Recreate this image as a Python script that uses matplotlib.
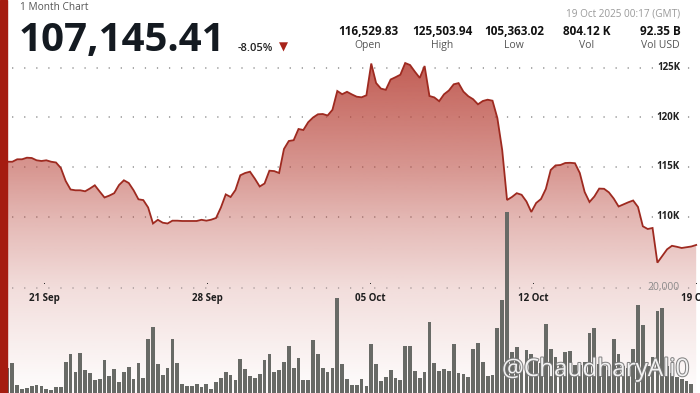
import matplotlib
matplotlib.use("Agg")
import matplotlib.pyplot as plt
import matplotlib.dates as mdates
import matplotlib.patheffects as pe
from matplotlib.patches import Rectangle
from matplotlib.transforms import blended_transform_factory
import numpy as np
import pandas as pd

plt.rcParams['font.family'] = ['Open Sans', 'DejaVu Sans']

# BTC/USD close, one point every 5 hours, ending 19 Oct 2025 00:17 GMT
price = [
    115520, 115520, 115765, 115765, 115926, 115895, 115664, 115594, 115664, 115520,
    115443, 114889, 113581, 112726, 112646, 112646, 112545, 112827, 113149, 112525,
    111922, 112113, 112354, 113179, 113652, 113380, 112646, 111740, 111660, 110915,
    109306, 109678, 109386, 109306, 109588, 109588, 109557, 109557, 109557, 109557,
    109678, 109588, 109688, 109859, 110915, 112233, 111972, 112676, 114155, 114386,
    114517, 113813, 113028, 113330, 114618, 114577, 114386, 116801, 117606, 117686,
    118813, 118712, 119497, 119970, 120292, 120322, 120171, 120744, 122636, 122314,
    122555, 122294, 122062, 122002, 122203, 125400, 123441, 122877, 122757, 123793,
    124024, 124276, 125450, 125250, 124577, 123954, 125150, 122133, 121992, 121610,
    122304, 122686, 123310, 123431, 122575, 122113, 121811, 121298, 121630, 121761,
    121660, 119920, 116700, 111670, 111970, 112354, 112193, 111519, 110463, 111368,
    111771, 112787, 114688, 115151, 115191, 115392, 115412, 115372, 114386, 112475,
    111469, 112022, 112817, 112797, 112435, 111811, 111016, 111227, 111439, 111620,
    110966, 109024, 108752, 108853, 105363, 106037, 106710, 107062, 106962, 106841,
    106911, 106992, 107145,
]

# volume per bar, thousands of BTC
volume_k = [
    4.7, 5.6, 1.6, 0.8, 1.0, 1.3, 1.5, 1.3, 0.8, 0.6,
    1.1, 1.2, 5.9, 7.3, 4.0, 7.6, 4.3, 3.7, 2.5, 2.7,
    6.3, 3.2, 4.5, 2.0, 4.0, 4.9, 2.6, 5.7, 2.8, 10.2,
    12.5, 5.5, 3.5, 4.7, 10.3, 5.7, 1.7, 1.3, 1.3, 1.7,
    1.1, 1.8, 0.8, 2.1, 2.8, 3.9, 3.4, 2.4, 6.5, 4.6,
    3.3, 2.9, 3.6, 6.2, 7.3, 3.9, 4.4, 5.8, 8.9, 4.7,
    6.6, 2.5, 2.5, 10.1, 7.4, 4.8, 3.9, 4.8, 18.0, 5.5,
    2.7, 1.5, 1.5, 2.6, 1.3, 9.3, 5.5, 2.3, 3.1, 4.4,
    2.9, 2.5, 8.9, 8.9, 4.1, 2.9, 3.9, 13.4, 5.7, 4.2,
    4.5, 4.1, 9.3, 3.7, 3.6, 3.1, 8.4, 9.4, 5.9, 3.2,
    3.4, 12.4, 17.7, 34.3, 7.7, 8.8, 5.1, 8.2, 7.4, 6.3,
    5.7, 13.1, 8.3, 6.9, 5.7, 7.8, 8.0, 5.3, 5.3, 5.9,
    11.4, 12.4, 5.5, 5.1, 4.4, 10.3, 7.4, 5.1, 4.8, 8.3,
    16.6, 12.9, 5.1, 6.9, 15.6, 16.2, 5.1, 3.8, 3.1, 2.7,
    2.3, 1.8,
]

price_ticks = [110000, 115000, 120000, 125000]
price_tick_labels = ['110K', '115K', '120K', '125K']
volume_tick = 20000
volume_tick_label = '20,000'
date_ticks = ['2025-09-21', '2025-09-28', '2025-10-05', '2025-10-12', '2025-10-19']
date_tick_labels = ['21 Sep', '28 Sep', '05 Oct', '12 Oct', '19 Oct']

last_price = '107,145.41'
change = '-8.05%'
stat_values = ['116,529.83', '125,503.94', '105,363.02', '804.12 K', '92.35 B']
stat_names = ['Open', 'High', 'Low', 'Vol', 'Vol USD']
stat_x = [368, 442, 514, 587, 660]
timestamp = '19 Oct 2025 00:17 (GMT)'

W, H = 700, 393
times = pd.date_range(end='2025-10-19 00:17', periods=len(price), freq='5h')
x = mdates.date2num(times)
step = x[1] - x[0]
volume = np.array(volume_k) * 1000

fig = plt.figure(figsize=(W / 100, H / 100), dpi=100)
ax = fig.add_axes([0, 0, 1, 335 / H])
ax_vol = ax.twinx()

xlim = (x[0] - 7.5 / 4.85 * step, x[0] + 692.5 / 4.85 * step)
ylim = (92250, 125956)

# gradient fill under the price line
base = np.array([185, 70, 60]) / 255
frac = np.linspace(0, 1, 256)
grad = np.zeros((256, 1, 4))
grad[:, 0, :3] = base
grad[:, 0, 3] = np.interp(frac, [0, 0.036, 0.334, 0.469, 0.693, 0.961, 1.0],
                          [0.88, 0.85, 0.56, 0.40, 0.18, 0.03, 0.02])
poly = ax.fill_between(x, price, ylim[0], facecolor='none', edgecolor='none')
im = ax.imshow(grad, extent=[xlim[0], xlim[1], ylim[0], ylim[1]],
               aspect='auto', origin='upper', zorder=1)
im.set_clip_path(poly.get_paths()[0], transform=ax.transData)

for p in price_ticks:
    ax.axhline(p, color='#8f8f8f', lw=1.1, ls=(0, (0.8, 7.1)), zorder=0.5)

ax.plot(x, price, color='#9e2a20', lw=1.3, zorder=3, solid_joinstyle='miter')

lab_tr = blended_transform_factory(ax.transAxes, ax.transData)
for p, lab in zip(price_ticks, price_tick_labels):
    ax.text(680 / W, p, lab, transform=lab_tr, ha='right', va='center',
            fontsize=7, fontweight='bold', color='#222222', zorder=4)

dnum = mdates.date2num(pd.to_datetime(date_ticks))
ax.plot(dnum, [0.328] * len(dnum), transform=ax.get_xaxis_transform(),
        ls='none', marker='s', ms=0.7, mew=0, color='#333333', zorder=4)
for d, lab in zip(dnum, date_tick_labels):
    ax.text(d, 0.2806, lab, transform=ax.get_xaxis_transform(), ha='center',
            va='center', fontsize=7, fontweight='bold', color='#1e1e1e', zorder=4)

# volume bars
ax_vol.bar(x[:len(volume)], volume, width=step * 0.78, color='#686a66', zorder=2)
ax_vol.axhline(volume_tick, color='#a89a9a', lw=1.1, ls=(0, (0.8, 7.1)), zorder=1)
ax_vol.text(680 / W, volume_tick, volume_tick_label,
            transform=blended_transform_factory(ax_vol.transAxes, ax_vol.transData),
            ha='right', va='center', fontsize=7.5, color='#8a8a8a')

for a in (ax, ax_vol):
    a.set_xlim(*xlim)
    for s in a.spines.values():
        s.set_visible(False)
    a.set_xticks([])
    a.set_yticks([])
ax.set_ylim(*ylim)
ax_vol.set_ylim(0, 20000 * 335 / 105.5)

# header
def fx(px):
    return px / W


def fy(py):
    return 1 - py / H


fig.text(fx(20), fy(7), '1 Month Chart', fontsize=7.3, color='#555555', va='center')
fig.text(fx(19), fy(51.5), last_price, fontsize=29, fontweight='bold',
         color='#141a21', va='baseline')
fig.text(fx(238), fy(51), change, fontsize=8, fontweight='semibold',
         color='#222222', va='baseline')
fig.text(fx(283.5), fy(47.5), '\u25BC', fontsize=8.5, color='#a8231a',
         ha='center', va='center', family='DejaVu Sans')
for cx, v, n in zip(stat_x, stat_values, stat_names):
    fig.text(fx(cx), fy(31.5), v, fontsize=8.5, fontweight='bold',
             color='#111111', ha='center', va='center')
    fig.text(fx(cx), fy(45.5), n, fontsize=7.5, color='#555555',
             ha='center', va='center')
fig.text(fx(680), fy(14), timestamp, fontsize=7.2, color='#9a9a9a',
         ha='right', va='center')

fig.add_artist(Rectangle((0, 0), 7 / W, 1, transform=fig.transFigure,
                         color='#a51c10', zorder=10))

fig.text(fx(502), fy(370), '@ChaudharyAli0', fontsize=17.5, color='white',
         alpha=0.9, va='center', ha='left',
         path_effects=[pe.withStroke(linewidth=1.5, foreground='#777777')])

fig.savefig('out.png', dpi=100)
